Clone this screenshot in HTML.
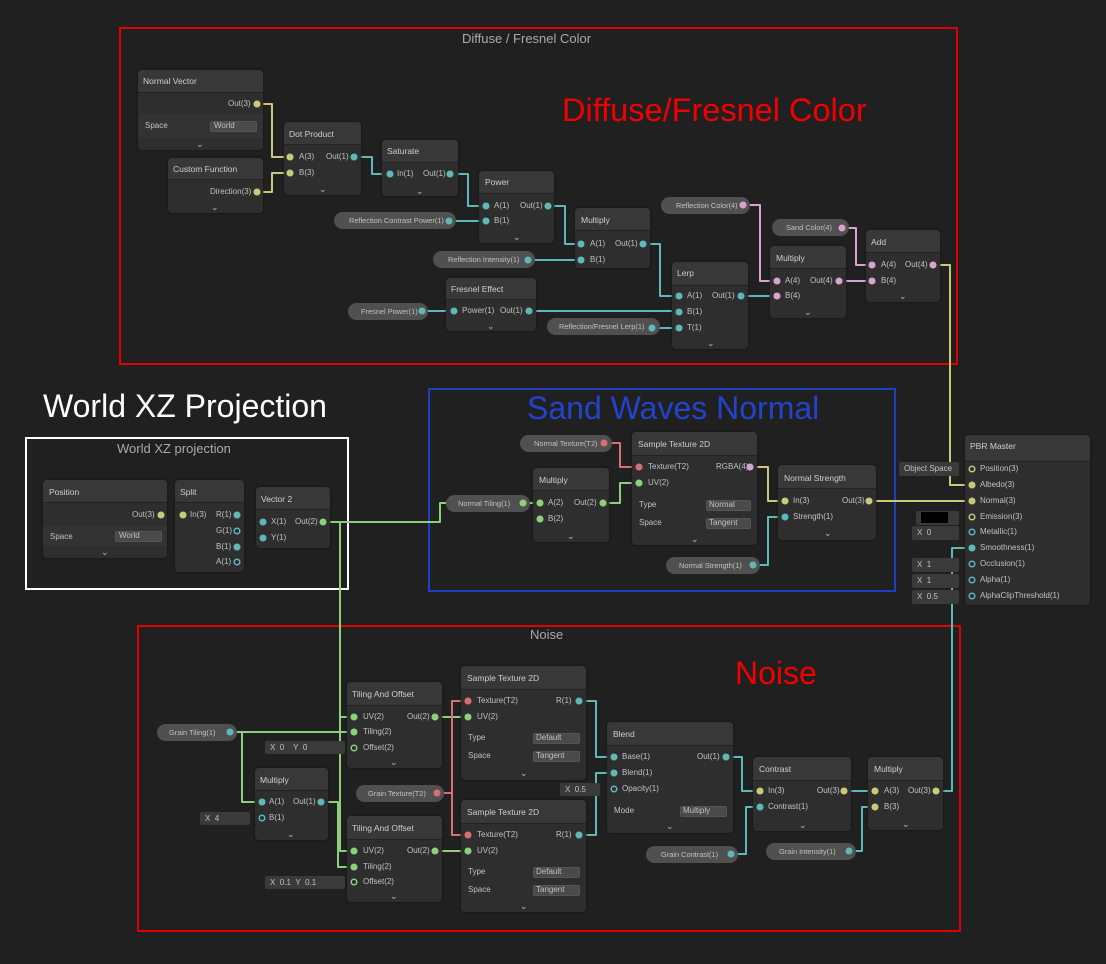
<!DOCTYPE html>
<html><head><meta charset="utf-8"><style>
body{margin:0;width:1106px;height:964px;background:#202020;overflow:hidden;position:relative;font-family:"Liberation Sans",sans-serif}
div,span,i{position:absolute;box-sizing:border-box}
.n{background:#2e2e2e;border-radius:4px;box-shadow:0 0 2px #111}
.h{position:absolute;left:0;right:0;top:0;background:#383838;border-radius:4px 4px 0 0;border-bottom:1px solid #222}
.t{font-size:8px;line-height:10px;color:#c2c2c2;white-space:nowrap}
.pill + .t{font-size:7.4px}
.ht{font-size:8.5px;line-height:10px;color:#cfcfcf;white-space:nowrap}
.ch{font-size:9px;color:#bbb;line-height:10px}
.pill{background:#505050;border-radius:9px;height:17px}
.box{background:#3a3a3a;border-radius:2px}
.g{border:2px solid #e00000}
.gt{font-size:13px;color:#aaa;white-space:nowrap;line-height:14px}
.dd{background:#4a4a4a;border:1px solid #555;border-radius:2px;height:11px}
</style></head><body>

<!-- Groups -->
<div class="g" style="left:119px;top:27px;width:839px;height:338px"></div>
<span class="gt" style="left:462px;top:32px">Diffuse / Fresnel Color</span>
<span style="left:562px;top:92px;font-size:32.5px;color:#f00000;white-space:nowrap">Diffuse/Fresnel Color</span>

<div style="left:25px;top:437px;width:324px;height:153px;border:2px solid #fff"></div>
<span class="gt" style="left:117px;top:442px">World XZ projection</span>
<span style="left:43px;top:388px;font-size:32px;color:#fff;white-space:nowrap">World XZ Projection</span>

<div style="left:428px;top:388px;width:468px;height:204px;border:2px solid #1e40c0"></div>
<span style="left:527px;top:390px;font-size:32px;color:#2244cc;white-space:nowrap">Sand Waves Normal</span>

<div class="g" style="left:137px;top:625px;width:824px;height:307px"></div>
<span class="gt" style="left:530px;top:628px">Noise</span>
<span style="left:735px;top:655px;font-size:32px;color:#f00000">Noise</span>

<!-- Wires -->
<svg width="1106" height="964" style="position:absolute;left:0;top:0" fill="none" stroke-width="2" stroke-linejoin="round">
<g stroke="#c9c97a">
<path d="M257 104H272V157H290"/><path d="M257 192H272V173H290"/>
<path d="M933 265H950V485H972"/><path d="M869 501H972"/>
<path d="M750 467H768V501H785"/>
</g>
<g stroke="#5fb8b8">
<path d="M354 157H372V174H390"/><path d="M450 174H468V206H486"/><path d="M449 221H486"/>
<path d="M548 206H565V244H581"/><path d="M528 260H581"/><path d="M643 244H660V296H679"/>
<path d="M529 311H679"/><path d="M652 328H679"/><path d="M422 311H454"/>
<path d="M741 296H760V296H777"/>
<path d="M753 565H768V517H785"/>
<path d="M579 701H596V757H614"/><path d="M579 835H596V773H614"/>
<path d="M726 757H742V791H760"/><path d="M731 854H746V807H760"/><path d="M844 791H875"/>
<path d="M849 851H862V807H875"/><path d="M936 791H952V548H972"/>
</g>
<g stroke="#d7a4cc">
<path d="M743 205H760V281H777"/><path d="M839 281H872"/><path d="M842 228H856V265H872"/>
</g>
<g stroke="#8ccf7c">
<path d="M323 522H440V503H540"/><path d="M523 503H540"/>
<path d="M323 522H340V717H354"/><path d="M340 717V851H354"/>
<path d="M603 503H620V483H639"/>
<path d="M230 732H354"/><path d="M230 732H242V802H262"/>
<path d="M321 802H338V867H354"/>
<path d="M435 717H468"/><path d="M435 851H468"/>
</g>
<g stroke="#d77070">
<path d="M604 443H620V467H639"/><path d="M437 793H452V701H468"/><path d="M452 793V835H468"/>
</g>
</svg>

<!-- Diffuse group nodes -->
<div class="n" style="left:138px;top:70px;width:125px;height:80px"><div class="h" style="height:23px"></div></div>
<span class="ht" style="left:143px;top:76px">Normal Vector</span>
<span class="t" style="left:228px;top:99px">Out(3)</span>
<div style="left:138px;top:114px;width:125px;height:24px;background:#333"></div>
<span class="t" style="left:145px;top:121px">Space</span><div class="dd" style="left:210px;top:121px;width:47px"></div><span class="t" style="left:214px;top:121px">World</span>
<span class="ch" style="left:196px;top:139px">⌄</span>

<div class="n" style="left:168px;top:158px;width:95px;height:55px"><div class="h" style="height:22px"></div></div>
<span class="ht" style="left:173px;top:164px">Custom Function</span>
<span class="t" style="left:210px;top:187px">Direction(3)</span>
<span class="ch" style="left:211px;top:202px">⌄</span>

<div class="n" style="left:284px;top:122px;width:77px;height:73px"><div class="h" style="height:23px"></div></div>
<span class="ht" style="left:289px;top:129px">Dot Product</span>
<span class="t" style="left:299px;top:152px">A(3)</span><span class="t" style="left:299px;top:168px">B(3)</span><span class="t" style="left:326px;top:152px">Out(1)</span>
<span class="ch" style="left:319px;top:184px">⌄</span>

<div class="n" style="left:382px;top:140px;width:76px;height:56px"><div class="h" style="height:23px"></div></div>
<span class="ht" style="left:387px;top:146px">Saturate</span>
<span class="t" style="left:397px;top:169px">In(1)</span><span class="t" style="left:423px;top:169px">Out(1)</span>
<span class="ch" style="left:416px;top:186px">⌄</span>

<div class="n" style="left:479px;top:171px;width:75px;height:72px"><div class="h" style="height:23px"></div></div>
<span class="ht" style="left:485px;top:177px">Power</span>
<span class="t" style="left:494px;top:201px">A(1)</span><span class="t" style="left:494px;top:216px">B(1)</span><span class="t" style="left:520px;top:201px">Out(1)</span>
<span class="ch" style="left:513px;top:232px">⌄</span>

<div class="n" style="left:575px;top:208px;width:75px;height:60px"><div class="h" style="height:23px"></div></div>
<span class="ht" style="left:581px;top:215px">Multiply</span>
<span class="t" style="left:590px;top:239px">A(1)</span><span class="t" style="left:590px;top:255px">B(1)</span><span class="t" style="left:615px;top:239px">Out(1)</span>

<div class="n" style="left:672px;top:262px;width:76px;height:87px"><div class="h" style="height:24px"></div></div>
<span class="ht" style="left:677px;top:268px">Lerp</span>
<span class="t" style="left:687px;top:291px">A(1)</span><span class="t" style="left:687px;top:307px">B(1)</span><span class="t" style="left:687px;top:323px">T(1)</span><span class="t" style="left:712px;top:291px">Out(1)</span>
<span class="ch" style="left:707px;top:338px">⌄</span>

<div class="n" style="left:446px;top:278px;width:90px;height:53px"><div class="h" style="height:22px"></div></div>
<span class="ht" style="left:451px;top:284px">Fresnel Effect</span>
<span class="t" style="left:462px;top:306px">Power(1)</span><span class="t" style="left:500px;top:306px">Out(1)</span>
<span class="ch" style="left:487px;top:321px">⌄</span>

<div class="n" style="left:770px;top:246px;width:76px;height:72px"><div class="h" style="height:23px"></div></div>
<span class="ht" style="left:776px;top:253px">Multiply</span>
<span class="t" style="left:785px;top:276px">A(4)</span><span class="t" style="left:785px;top:291px">B(4)</span><span class="t" style="left:810px;top:276px">Out(4)</span>
<span class="ch" style="left:804px;top:307px">⌄</span>

<div class="n" style="left:866px;top:230px;width:74px;height:72px"><div class="h" style="height:23px"></div></div>
<span class="ht" style="left:871px;top:237px">Add</span>
<span class="t" style="left:881px;top:260px">A(4)</span><span class="t" style="left:881px;top:276px">B(4)</span><span class="t" style="left:905px;top:260px">Out(4)</span>
<span class="ch" style="left:899px;top:291px">⌄</span>

<!-- pills -->
<div class="pill" style="left:334px;top:212px;width:122px"></div><span class="t" style="left:349px;top:216px">Reflection Contrast Power(1)</span>
<div class="pill" style="left:433px;top:251px;width:102px"></div><span class="t" style="left:448px;top:255px">Reflection Intensity(1)</span>
<div class="pill" style="left:661px;top:197px;width:89px"></div><span class="t" style="left:676px;top:201px">Reflection Color(4)</span>
<div class="pill" style="left:772px;top:219px;width:77px"></div><span class="t" style="left:786px;top:223px">Sand Color(4)</span>
<div class="pill" style="left:348px;top:303px;width:80px"></div><span class="t" style="left:361px;top:307px">Fresnel Power(1)</span>
<div class="pill" style="left:547px;top:318px;width:113px"></div><span class="t" style="left:559px;top:322px">Reflection/Fresnel Lerp(1)</span>

<!-- World XZ -->
<div class="n" style="left:43px;top:480px;width:124px;height:78px"><div class="h" style="height:23px"></div></div>
<span class="ht" style="left:49px;top:487px">Position</span>
<span class="t" style="left:132px;top:510px">Out(3)</span>
<div style="left:43px;top:526px;width:124px;height:20px;background:#333"></div>
<span class="t" style="left:50px;top:532px">Space</span><div class="dd" style="left:115px;top:531px;width:47px"></div><span class="t" style="left:119px;top:531px">World</span>
<span class="ch" style="left:101px;top:547px">⌄</span>

<div class="n" style="left:175px;top:480px;width:69px;height:92px"><div class="h" style="height:23px"></div></div>
<span class="ht" style="left:180px;top:487px">Split</span>
<span class="t" style="left:190px;top:510px">In(3)</span>
<span class="t" style="left:216px;top:510px">R(1)</span><span class="t" style="left:216px;top:526px">G(1)</span><span class="t" style="left:216px;top:542px">B(1)</span><span class="t" style="left:216px;top:557px">A(1)</span>

<div class="n" style="left:256px;top:487px;width:74px;height:61px"><div class="h" style="height:23px"></div></div>
<span class="ht" style="left:261px;top:494px">Vector 2</span>
<span class="t" style="left:271px;top:517px">X(1)</span><span class="t" style="left:271px;top:533px">Y(1)</span><span class="t" style="left:295px;top:517px">Out(2)</span>

<!-- Sand waves -->
<div class="pill" style="left:520px;top:435px;width:92px"></div><span class="t" style="left:534px;top:439px">Normal Texture(T2)</span>
<div class="pill" style="left:446px;top:495px;width:84px"></div><span class="t" style="left:458px;top:499px">Normal Tiling(1)</span>
<div class="pill" style="left:666px;top:557px;width:94px"></div><span class="t" style="left:679px;top:561px">Normal Strength(1)</span>

<div class="n" style="left:533px;top:468px;width:76px;height:74px"><div class="h" style="height:23px"></div></div>
<span class="ht" style="left:539px;top:475px">Multiply</span>
<span class="t" style="left:548px;top:498px">A(2)</span><span class="t" style="left:548px;top:514px">B(2)</span><span class="t" style="left:574px;top:498px">Out(2)</span>
<span class="ch" style="left:567px;top:531px">⌄</span>

<div class="n" style="left:632px;top:432px;width:125px;height:113px"><div class="h" style="height:24px"></div></div>
<span class="ht" style="left:638px;top:439px">Sample Texture 2D</span>
<span class="t" style="left:648px;top:462px">Texture(T2)</span><span class="t" style="left:648px;top:478px">UV(2)</span><span class="t" style="left:716px;top:462px">RGBA(4)</span>
<span class="t" style="left:639px;top:500px">Type</span><div class="dd" style="left:706px;top:500px;width:45px"></div><span class="t" style="left:709px;top:500px">Normal</span>
<span class="t" style="left:639px;top:518px">Space</span><div class="dd" style="left:706px;top:518px;width:45px"></div><span class="t" style="left:709px;top:518px">Tangent</span>
<span class="ch" style="left:691px;top:534px">⌄</span>

<div class="n" style="left:778px;top:465px;width:98px;height:75px"><div class="h" style="height:24px"></div></div>
<span class="ht" style="left:784px;top:473px">Normal Strength</span>
<span class="t" style="left:793px;top:496px">In(3)</span><span class="t" style="left:793px;top:512px">Strength(1)</span><span class="t" style="left:842px;top:496px">Out(3)</span>
<span class="ch" style="left:824px;top:528px">⌄</span>

<!-- PBR Master -->
<div class="n" style="left:965px;top:435px;width:125px;height:170px"><div class="h" style="height:27px"></div></div>
<span class="ht" style="left:970px;top:441px">PBR Master</span>
<span class="t" style="left:980px;top:464px">Position(3)</span><span class="t" style="left:980px;top:480px">Albedo(3)</span><span class="t" style="left:980px;top:496px">Normal(3)</span><span class="t" style="left:980px;top:512px">Emission(3)</span><span class="t" style="left:980px;top:527px">Metallic(1)</span><span class="t" style="left:980px;top:543px">Smoothness(1)</span><span class="t" style="left:980px;top:559px">Occlusion(1)</span><span class="t" style="left:980px;top:575px">Alpha(1)</span><span class="t" style="left:980px;top:591px">AlphaClipThreshold(1)</span>
<div class="box" style="left:899px;top:462px;width:60px;height:14px"></div><span class="t" style="left:904px;top:464px">Object Space</span>
<div class="box" style="left:916px;top:511px;width:43px;height:14px"></div><div style="left:921px;top:512px;width:27px;height:11px;background:#000"></div>
<div class="box" style="left:912px;top:526px;width:47px;height:14px"></div><span class="t" style="left:917px;top:528px">X&nbsp;&nbsp;0</span>
<div class="box" style="left:912px;top:558px;width:47px;height:14px"></div><span class="t" style="left:917px;top:560px">X&nbsp;&nbsp;1</span>
<div class="box" style="left:912px;top:574px;width:47px;height:14px"></div><span class="t" style="left:917px;top:576px">X&nbsp;&nbsp;1</span>
<div class="box" style="left:912px;top:590px;width:47px;height:14px"></div><span class="t" style="left:917px;top:592px">X&nbsp;&nbsp;0.5</span>

<!-- Noise -->
<div class="pill" style="left:157px;top:724px;width:80px"></div><span class="t" style="left:169px;top:728px">Grain Tiling(1)</span>
<div class="box" style="left:265px;top:741px;width:80px;height:13px"></div><span class="t" style="left:270px;top:743px">X&nbsp;&nbsp;0&nbsp;&nbsp;&nbsp;&nbsp;Y&nbsp;&nbsp;0</span>
<div class="box" style="left:200px;top:812px;width:50px;height:13px"></div><span class="t" style="left:205px;top:814px">X&nbsp;&nbsp;4</span>
<div class="box" style="left:265px;top:876px;width:80px;height:13px"></div><span class="t" style="left:270px;top:878px">X&nbsp;&nbsp;0.1&nbsp;&nbsp;Y&nbsp;&nbsp;0.1</span>
<div class="box" style="left:560px;top:783px;width:40px;height:13px"></div><span class="t" style="left:565px;top:785px">X&nbsp;&nbsp;0.5</span>
<div class="pill" style="left:356px;top:785px;width:88px"></div><span class="t" style="left:368px;top:789px">Grain Texture(T2)</span>
<div class="pill" style="left:646px;top:846px;width:92px"></div><span class="t" style="left:661px;top:850px">Grain Contrast(1)</span>
<div class="pill" style="left:766px;top:843px;width:90px"></div><span class="t" style="left:779px;top:847px">Grain Intensity(1)</span>

<div class="n" style="left:347px;top:682px;width:95px;height:86px"><div class="h" style="height:24px"></div></div>
<span class="ht" style="left:352px;top:689px">Tiling And Offset</span>
<span class="t" style="left:363px;top:712px">UV(2)</span><span class="t" style="left:363px;top:727px">Tiling(2)</span><span class="t" style="left:363px;top:743px">Offset(2)</span><span class="t" style="left:407px;top:712px">Out(2)</span>
<span class="ch" style="left:390px;top:757px">⌄</span>

<div class="n" style="left:347px;top:816px;width:95px;height:86px"><div class="h" style="height:24px"></div></div>
<span class="ht" style="left:352px;top:823px">Tiling And Offset</span>
<span class="t" style="left:363px;top:846px">UV(2)</span><span class="t" style="left:363px;top:862px">Tiling(2)</span><span class="t" style="left:363px;top:877px">Offset(2)</span><span class="t" style="left:407px;top:846px">Out(2)</span>
<span class="ch" style="left:390px;top:891px">⌄</span>

<div class="n" style="left:461px;top:666px;width:125px;height:114px"><div class="h" style="height:24px"></div></div>
<span class="ht" style="left:467px;top:673px">Sample Texture 2D</span>
<span class="t" style="left:477px;top:696px">Texture(T2)</span><span class="t" style="left:477px;top:712px">UV(2)</span><span class="t" style="left:556px;top:696px">R(1)</span>
<span class="t" style="left:468px;top:733px">Type</span><div class="dd" style="left:533px;top:733px;width:47px"></div><span class="t" style="left:536px;top:733px">Default</span>
<span class="t" style="left:468px;top:751px">Space</span><div class="dd" style="left:533px;top:751px;width:47px"></div><span class="t" style="left:536px;top:751px">Tangent</span>
<span class="ch" style="left:520px;top:768px">⌄</span>

<div class="n" style="left:461px;top:800px;width:125px;height:112px"><div class="h" style="height:24px"></div></div>
<span class="ht" style="left:467px;top:807px">Sample Texture 2D</span>
<span class="t" style="left:477px;top:830px">Texture(T2)</span><span class="t" style="left:477px;top:846px">UV(2)</span><span class="t" style="left:556px;top:830px">R(1)</span>
<span class="t" style="left:468px;top:867px">Type</span><div class="dd" style="left:533px;top:867px;width:47px"></div><span class="t" style="left:536px;top:867px">Default</span>
<span class="t" style="left:468px;top:885px">Space</span><div class="dd" style="left:533px;top:885px;width:47px"></div><span class="t" style="left:536px;top:885px">Tangent</span>
<span class="ch" style="left:520px;top:901px">⌄</span>

<div class="n" style="left:607px;top:722px;width:126px;height:111px"><div class="h" style="height:24px"></div></div>
<span class="ht" style="left:613px;top:729px">Blend</span>
<span class="t" style="left:622px;top:752px">Base(1)</span><span class="t" style="left:622px;top:768px">Blend(1)</span><span class="t" style="left:622px;top:784px">Opacity(1)</span><span class="t" style="left:697px;top:752px">Out(1)</span>
<span class="t" style="left:614px;top:806px">Mode</span><div class="dd" style="left:680px;top:806px;width:47px"></div><span class="t" style="left:683px;top:806px">Multiply</span>
<span class="ch" style="left:666px;top:821px">⌄</span>

<div class="n" style="left:255px;top:768px;width:73px;height:72px"><div class="h" style="height:23px"></div></div>
<span class="ht" style="left:260px;top:775px">Multiply</span>
<span class="t" style="left:269px;top:797px">A(1)</span><span class="t" style="left:269px;top:813px">B(1)</span><span class="t" style="left:293px;top:797px">Out(1)</span>
<span class="ch" style="left:287px;top:829px">⌄</span>

<div class="n" style="left:753px;top:757px;width:98px;height:74px"><div class="h" style="height:24px"></div></div>
<span class="ht" style="left:759px;top:764px">Contrast</span>
<span class="t" style="left:768px;top:786px">In(3)</span><span class="t" style="left:768px;top:802px">Contrast(1)</span><span class="t" style="left:817px;top:786px">Out(3)</span>
<span class="ch" style="left:799px;top:820px">⌄</span>

<div class="n" style="left:868px;top:757px;width:75px;height:73px"><div class="h" style="height:24px"></div></div>
<span class="ht" style="left:874px;top:764px">Multiply</span>
<span class="t" style="left:884px;top:786px">A(3)</span><span class="t" style="left:884px;top:802px">B(3)</span><span class="t" style="left:908px;top:786px">Out(3)</span>
<span class="ch" style="left:902px;top:819px">⌄</span>

<!-- Ports -->
<svg width="1106" height="964" style="position:absolute;left:0;top:0" stroke-width="1.5">
<g fill="#c9c97a" stroke="#c9c97a">
<circle cx="257" cy="104" r="2.8"/><circle cx="257" cy="192" r="2.8"/><circle cx="290" cy="157" r="2.8"/><circle cx="290" cy="173" r="2.8"/>
<circle cx="161" cy="515" r="2.8"/><circle cx="183" cy="515" r="2.8"/>
<circle cx="785" cy="501" r="2.8"/><circle cx="869" cy="501" r="2.8"/>
<circle cx="972" cy="485" r="2.8"/><circle cx="972" cy="501" r="2.8"/>
<circle cx="760" cy="791" r="2.8"/><circle cx="844" cy="791" r="2.8"/><circle cx="875" cy="791" r="2.8"/><circle cx="875" cy="807" r="2.8"/><circle cx="936" cy="791" r="2.8"/>
</g>
<g fill="none" stroke="#c9c97a"><circle cx="972" cy="469" r="2.8"/><circle cx="972" cy="517" r="2.8"/></g>
<g fill="#5fb8b8" stroke="#5fb8b8">
<circle cx="354" cy="157" r="2.8"/><circle cx="390" cy="174" r="2.8"/><circle cx="450" cy="174" r="2.8"/><circle cx="486" cy="206" r="2.8"/><circle cx="486" cy="221" r="2.8"/><circle cx="449" cy="221" r="2.8"/>
<circle cx="548" cy="206" r="2.8"/><circle cx="581" cy="244" r="2.8"/><circle cx="581" cy="260" r="2.8"/><circle cx="528" cy="260" r="2.8"/><circle cx="643" cy="244" r="2.8"/>
<circle cx="679" cy="296" r="2.8"/><circle cx="679" cy="312" r="2.8"/><circle cx="679" cy="328" r="2.8"/><circle cx="741" cy="296" r="2.8"/><circle cx="652" cy="328" r="2.8"/>
<circle cx="422" cy="311" r="2.8"/><circle cx="454" cy="311" r="2.8"/><circle cx="529" cy="311" r="2.8"/>
<circle cx="237" cy="515" r="2.8"/><circle cx="237" cy="547" r="2.8"/><circle cx="263" cy="522" r="2.8"/><circle cx="263" cy="538" r="2.8"/>
<circle cx="785" cy="517" r="2.8"/><circle cx="753" cy="565" r="2.8"/><circle cx="972" cy="548" r="2.8"/>
<circle cx="262" cy="802" r="2.8"/><circle cx="321" cy="802" r="2.8"/><circle cx="579" cy="701" r="2.8"/><circle cx="579" cy="835" r="2.8"/>
<circle cx="614" cy="757" r="2.8"/><circle cx="614" cy="773" r="2.8"/><circle cx="726" cy="757" r="2.8"/><circle cx="760" cy="807" r="2.8"/><circle cx="731" cy="854" r="2.8"/><circle cx="849" cy="851" r="2.8"/>
<circle cx="230" cy="732" r="2.8"/>
</g>
<g fill="none" stroke="#5fb8b8"><circle cx="237" cy="531" r="2.8"/><circle cx="237" cy="562" r="2.8"/><circle cx="972" cy="532" r="2.8"/><circle cx="972" cy="564" r="2.8"/><circle cx="972" cy="580" r="2.8"/><circle cx="972" cy="596" r="2.8"/><circle cx="262" cy="818" r="2.8"/><circle cx="614" cy="789" r="2.8"/></g>
<g fill="#d7a4cc" stroke="#d7a4cc">
<circle cx="743" cy="205" r="2.8"/><circle cx="777" cy="281" r="2.8"/><circle cx="777" cy="296" r="2.8"/><circle cx="839" cy="281" r="2.8"/><circle cx="842" cy="228" r="2.8"/><circle cx="872" cy="265" r="2.8"/><circle cx="872" cy="281" r="2.8"/><circle cx="933" cy="265" r="2.8"/><circle cx="750" cy="467" r="2.8"/>
</g>
<g fill="#8ccf7c" stroke="#8ccf7c">
<circle cx="323" cy="522" r="2.8"/><circle cx="540" cy="503" r="2.8"/><circle cx="540" cy="519" r="2.8"/><circle cx="523" cy="503" r="2.8"/><circle cx="603" cy="503" r="2.8"/><circle cx="639" cy="483" r="2.8"/>
<circle cx="354" cy="717" r="2.8"/><circle cx="354" cy="732" r="2.8"/><circle cx="354" cy="851" r="2.8"/><circle cx="354" cy="867" r="2.8"/>
<circle cx="435" cy="717" r="2.8"/><circle cx="435" cy="851" r="2.8"/><circle cx="468" cy="717" r="2.8"/><circle cx="468" cy="851" r="2.8"/>
</g>
<g fill="none" stroke="#8ccf7c"><circle cx="354" cy="748" r="2.8"/><circle cx="354" cy="882" r="2.8"/></g>
<g fill="#d77070" stroke="#d77070">
<circle cx="604" cy="443" r="2.8"/><circle cx="639" cy="467" r="2.8"/><circle cx="437" cy="793" r="2.8"/><circle cx="468" cy="701" r="2.8"/><circle cx="468" cy="835" r="2.8"/>
</g>
</svg>
</body></html>
